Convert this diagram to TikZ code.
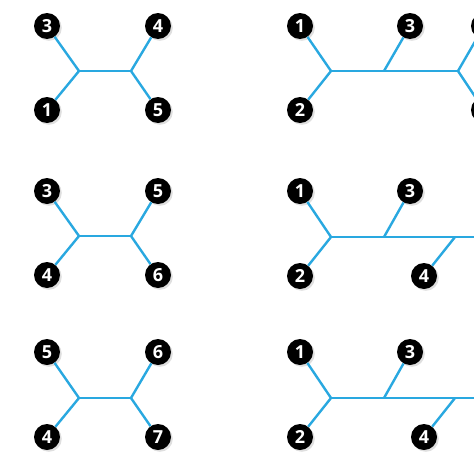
\documentclass[tikz,border=0pt]{standalone}
\usepackage{fontspec}
\setmainfont{Open Sans}
\usetikzlibrary{shadows}
\definecolor{branchblue}{RGB}{41,168,224}

\begin{document}
\begin{tikzpicture}[x=1pt,y=-1pt,
  leaf/.style={circle,fill=black,inner sep=0pt,minimum size=26pt,text=white,
    font=\fontsize{18}{18}\selectfont\bfseries,
    drop shadow={opacity=0.25,shadow xshift=1.8pt,shadow yshift=-1.8pt}},
  branch/.style={draw=branchblue,line width=2.4pt}]

\clip (0,0) rectangle (474,474);
\fill[white] (0,0) rectangle (474,474);

% left column
\coordinate (a1) at (79,71);
\coordinate (a2) at (131,71);
\node(a3) at (47,26)[leaf] {3};
\node(a4) at (158,26)[leaf] {4};
\node(a5) at (47,110)[leaf] {1};
\node(a6) at (158,110)[leaf] {5};

\coordinate (b1) at (79,236);
\coordinate (b2) at (131,236);
\node(b3) at (47,191)[leaf] {3};
\node(b4) at (158,191)[leaf] {5};
\node(b5) at (47,275)[leaf] {4};
\node(b6) at (158,275)[leaf] {6};

\coordinate (c1) at (79,398);
\coordinate (c2) at (131,398);
\node(c3) at (47,352)[leaf] {5};
\node(c4) at (158,352)[leaf] {6};
\node(c5) at (47,437)[leaf] {4};
\node(c6) at (158,437)[leaf] {7};

\draw[branch] (a3) -- (a1) -- (a5);
\draw[branch] (a1) -- (a2);
\draw[branch] (a4) -- (a2) -- (a6);
\draw[branch] (b3) -- (b1) -- (b5);
\draw[branch] (b1) -- (b2);
\draw[branch] (b4) -- (b2) -- (b6);
\draw[branch] (c3) -- (c1) -- (c5);
\draw[branch] (c1) -- (c2);
\draw[branch] (c4) -- (c2) -- (c6);

% right column
\coordinate (d1) at (331,71);
\coordinate (d2) at (384,71);
\coordinate (d3) at (458,71);
\node(d4) at (300,26)[leaf] {1};
\node(d5) at (300,110)[leaf] {2};
\node(d6) at (410,26)[leaf] {3};
\node(d7) at (484,26)[leaf] {};
\node(d8) at (484,110)[leaf] {};

\coordinate (e1) at (331,237);
\coordinate (e2) at (384,237);
\coordinate (e3) at (455,237);
\coordinate (e9) at (480,237);
\node(e4) at (300,191)[leaf] {1};
\node(e5) at (300,276)[leaf] {2};
\node(e6) at (410,191)[leaf] {3};
\node(e7) at (424,276)[leaf] {4};

\coordinate (f1) at (331,398);
\coordinate (f2) at (384,398);
\coordinate (f3) at (455,398);
\coordinate (f9) at (480,398);
\node(f4) at (300,352)[leaf] {1};
\node(f5) at (300,437)[leaf] {2};
\node(f6) at (410,352)[leaf] {3};
\node(f7) at (424,437)[leaf] {4};

\draw[branch] (d4) -- (d1) -- (d5);
\draw[branch] (d1) -- (d3);
\draw[branch] (d2) -- (d6);
\draw[branch] (d7) -- (d3) -- (d8);
\draw[branch] (e4) -- (e1) -- (e5);
\draw[branch] (e1) -- (e9);
\draw[branch] (e2) -- (e6);
\draw[branch] (e3) -- (e7);
\draw[branch] (f4) -- (f1) -- (f5);
\draw[branch] (f1) -- (f9);
\draw[branch] (f2) -- (f6);
\draw[branch] (f3) -- (f7);

\end{tikzpicture}
\end{document}
